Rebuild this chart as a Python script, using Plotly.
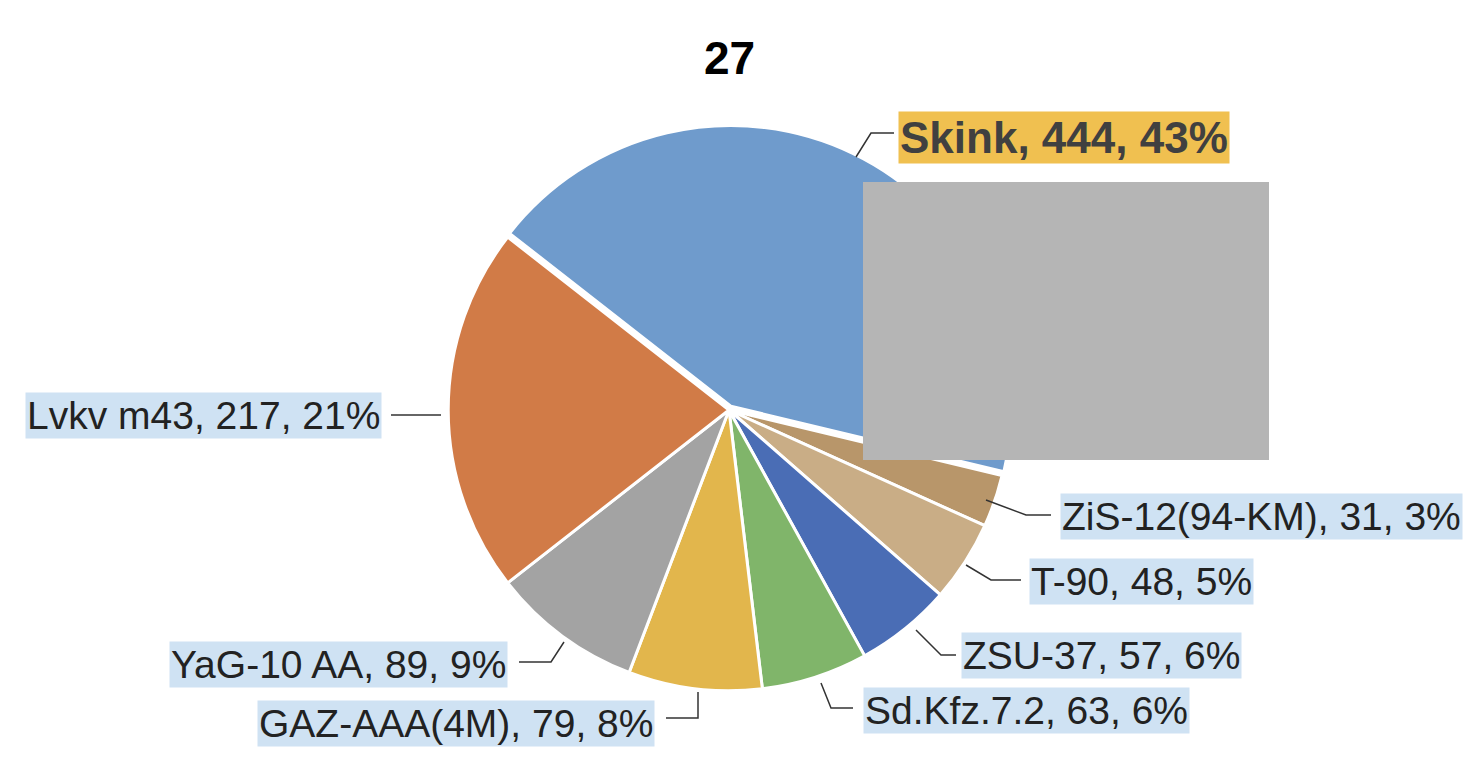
import plotly.graph_objects as go

title = "27"
labels = ["Skink", "ZiS-12(94-KM)", "T-90", "ZSU-37", "Sd.Kfz.7.2", "GAZ-AAA(4M)", "YaG-10 AA", "Lvkv m43"]
values = [444, 31, 48, 57, 63, 79, 89, 217]
percents = [43, 3, 5, 6, 6, 8, 9, 21]
colors = ["#6f9bcc", "#b8966a", "#c9ad86", "#4a6db5", "#80b56a", "#e2b64c", "#a3a3a3", "#d17b47"]

W, H = 1481, 767
OX, OY = 7, 8  # page offset compensation
label_pos = [(1063, 137), (1260, 516), (1140, 581), (1100, 655), (1025, 710), (455, 723), (337, 664), (202, 415)]
leaders = [
    [(855, 157), (870, 133), (893, 133)],
    [(985, 500), (1025, 515), (1050, 515)],
    [(965, 565), (990, 580), (1020, 580)],
    [(915, 630), (940, 655), (955, 655)],
    [(820, 683), (830, 708), (852, 708)],
    [(697, 692), (697, 718), (665, 718)],
    [(563, 642), (550, 662), (518, 662)],
    [(390, 415), (440, 415)],
]

px = lambda x: (x - OX) / W
py = lambda y: 1 - (y - OY) / H

fig = go.Figure(go.Pie(
    labels=labels, values=values, sort=False, direction="clockwise", rotation=-52,
    marker=dict(colors=colors, line=dict(color="white", width=3)),
    pull=[0.015, 0, 0, 0, 0, 0, 0, 0], textinfo="none", hoverinfo="label+value+percent",
    domain=dict(x=[px(443), px(1013)], y=[py(697), py(123)]),
))

shapes = [dict(type="rect", xref="paper", yref="paper", x0=px(862), x1=px(1268), y0=py(460), y1=py(182),
               fillcolor="#b5b5b5", line=dict(width=0), layer="above")]
for pts in leaders:
    path = "M " + " L ".join(f"{px(x)} {py(y)}" for x, y in pts)
    shapes.append(dict(type="path", xref="paper", yref="paper", path=path, line=dict(color="#333", width=1.5)))

annotations = []
for i, (lab, v, p) in enumerate(zip(labels, values, percents)):
    x, y = label_pos[i]
    bold = i == 0
    annotations.append(dict(
        x=px(x), y=py(y), xref="paper", yref="paper", showarrow=False,
        xanchor="center", yanchor="middle",
        text=(f"<b>{lab}, {v}, {p}%</b>" if bold else f"{lab}, {v}, {p}%"),
        font=dict(size=44 if bold else 39, color="#404040" if bold else "#222", family="Liberation Sans, Arial"),
        bgcolor="#f0c050" if bold else "#cfe2f3", borderpad=1,
    ))
annotations.append(dict(x=px(728), y=py(58), xref="paper", yref="paper", showarrow=False,
                        xanchor="center", yanchor="middle",
                        text=f"<b>{title}</b>", font=dict(size=46, color="black", family="Liberation Sans, Arial")))

fig.update_layout(width=W, height=H, margin=dict(l=0, r=0, t=0, b=0), showlegend=False,
                  paper_bgcolor="white", plot_bgcolor="white", shapes=shapes, annotations=annotations)
fig.write_html("out.html")
